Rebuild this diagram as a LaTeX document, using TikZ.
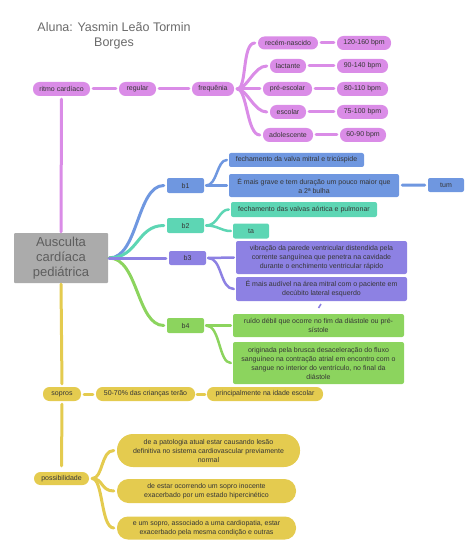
\documentclass[tikz,border=0pt]{standalone}
\usepackage{fontspec}
\setmainfont{Liberation Sans}
\definecolor{pinkc}{HTML}{DA8CE7}
\definecolor{bluec}{HTML}{6F97E0}
\definecolor{tealc}{HTML}{5DD6B4}
\definecolor{purplec}{HTML}{8D81E3}
\definecolor{greenc}{HTML}{8CD45E}
\definecolor{yellowc}{HTML}{E4CB4F}
\definecolor{greyc}{HTML}{ABABAB}
\definecolor{txt}{HTML}{363636}
\definecolor{titlec}{HTML}{6A6A6A}
\tikzset{
  base/.style={font=\fontsize{7}{9}\selectfont, text=txt, inner sep=0pt, align=center},
  pill/.style={base, fill=#1, rounded corners=6.5pt},
  box/.style={base, fill=#1, rounded corners=2pt},
  conn/.style={draw=#1, line width=3pt, line cap=round, shorten <=3pt, shorten >=3pt},
  thin/.style={draw=#1, line width=2.5pt, line cap=round, shorten <=2pt, shorten >=2pt},
}
\begin{document}
\begin{tikzpicture}[x=1pt,y=-1pt]
\useasboundingbox (0,0) rectangle (474,556);

% title
\node[font=\fontsize{12.5}{15}\selectfont, text=titlec, align=center, inner sep=0pt] (title) at (114,36) {Aluna: Yasmin Leão Tormin\\Borges};

% pink row
\node[pill=pinkc, minimum width=57pt, minimum height=14pt] (ritmo) at (61.5,89) {ritmo cardíaco};
\node[pill=pinkc, minimum width=37pt, minimum height=14pt] (regular) at (137.5,89) {regular};
\node[pill=pinkc, minimum width=42pt, minimum height=14pt] (freq) at (213,89) {frequênia};

\node[pill=pinkc, minimum width=60pt, minimum height=13pt] (recem) at (288,43) {recém-nascido};
\node[pill=pinkc, minimum width=36pt, minimum height=14pt] (lact) at (288,66) {lactante};
\node[pill=pinkc, minimum width=49pt, minimum height=14pt] (pre) at (287.5,89) {pré-escolar};
\node[pill=pinkc, minimum width=36pt, minimum height=14pt] (esc) at (288,112) {escolar};
\node[pill=pinkc, minimum width=50pt, minimum height=14pt] (adol) at (288,135) {adolescente};

\node[pill=pinkc, minimum width=54pt, minimum height=14pt] (bpmA) at (364,43) {120-160 bpm};
\node[pill=pinkc, minimum width=51pt, minimum height=14pt] (bpmB) at (362.5,66) {90-140 bpm};
\node[pill=pinkc, minimum width=51pt, minimum height=14pt] (bpmC) at (362.5,89) {80-110 bpm};
\node[pill=pinkc, minimum width=51pt, minimum height=14pt] (bpmD) at (362.5,112) {75-100 bpm};
\node[pill=pinkc, minimum width=46pt, minimum height=14pt] (bpmE) at (363,135) {60-90 bpm};

\draw[conn=pinkc] (ritmo) -- (regular);
\draw[conn=pinkc] (regular) -- (freq);
\foreach \c in {recem,lact,pre,esc,adol}{
  \draw[conn=pinkc] (freq.east) .. controls +(13,0) and +(-16,0) .. (\c.west);
}
\draw[conn=pinkc] (recem) -- (bpmA);
\draw[conn=pinkc] (lact) -- (bpmB);
\draw[conn=pinkc] (pre) -- (bpmC);
\draw[conn=pinkc] (esc) -- (bpmD);
\draw[conn=pinkc] (adol) -- (bpmE);

% central
\node[base, fill=greyc, rounded corners=1pt, minimum width=94pt, minimum height=50pt,
      font=\fontsize{13}{15}\selectfont, text=txt!80!white] (central) at (61,258) {Ausculta\\cardíaca\\pediátrica};
\draw[conn=pinkc, shorten >=1pt] (ritmo.south) -- (central.north);

% b nodes
\node[box=bluec, minimum width=37pt, minimum height=15pt] (b1) at (185.5,185.5) {b1};
\node[box=tealc, minimum width=37pt, minimum height=15pt] (b2) at (185.5,225.5) {b2};
\node[box=purplec, minimum width=37pt, minimum height=14pt] (b3) at (187.5,258) {b3};
\node[box=greenc, minimum width=37pt, minimum height=15pt] (b4) at (185.5,325.5) {b4};

\draw[conn=bluec, shorten <=1pt] (central.east) .. controls +(30,0) and +(-30,0) .. (b1.west);
\draw[conn=tealc, shorten <=1pt] (central.east) .. controls +(30,0) and +(-30,0) .. (b2.west);
\draw[conn=greenc, shorten <=1pt] (central.east) .. controls +(30,0) and +(-30,0) .. (b4.west);
\draw[conn=purplec, shorten <=1pt] (central.east) -- (b3.west);

% blue children
\node[box=bluec, minimum width=135pt, minimum height=14pt] (bl1) at (296.5,160) {fechamento da valva mitral e tricúspide};
\node[box=bluec, minimum width=170pt, minimum height=23pt] (bl2) at (314,185.5) {É mais grave e tem duração um pouco maior que\\a 2ª bulha};
\node[box=bluec, minimum width=36pt, minimum height=14pt] (tum) at (446,185) {tum};
\draw[thin=bluec] (b1.east) .. controls +(13,0) and +(-12,0) .. (bl1.west);
\draw[thin=bluec] (b1.east) -- (bl2.west);
\draw[conn=bluec] (bl2) -- (tum);

% teal children
\node[box=tealc, minimum width=146pt, minimum height=15pt] (te1) at (304,209.5) {fechamento das valvas aórtica e pulmonar};
\node[box=tealc, minimum width=36pt, minimum height=15pt] (ta) at (251,231) {ta};
\draw[thin=tealc] (b2.east) .. controls +(14,0) and +(-12,0) .. (te1.west);
\draw[thin=tealc] (b2.east) .. controls +(14,0) and +(-12,0) .. (ta.west);

% purple children
\node[box=purplec, minimum width=171pt, minimum height=33pt] (pu1) at (321.5,257.5) {vibração da parede ventricular distendida pela\\corrente sanguínea que penetra na cavidade\\durante o enchimento ventricular rápido};
\node[box=purplec, minimum width=171pt, minimum height=24pt] (pu2) at (321.5,289) {É mais audível na área mitral com o paciente em\\decúbito lateral esquerdo};
\draw[thin=purplec] (b3.east) -- (pu1.west);
\draw[thin=purplec] (b3.east) .. controls +(16,0) and +(-16,0) .. (pu2.west);
\coordinate (tA) at (321,304);
\coordinate (tB) at (318.5,308);
\draw[draw=purplec, line width=1.6pt] (tA) -- (tB);

% green children
\node[box=greenc, minimum width=171pt, minimum height=23pt] (gr1) at (318.5,325.5) {ruído débil que ocorre no fim da diástole ou pré-\\sístole};
\node[box=greenc, minimum width=171pt, minimum height=42pt] (gr2) at (318.5,363) {originada pela brusca desaceleração do fluxo\\sanguíneo na contração atrial em encontro com o\\sangue no interior do ventrículo, no final da\\diástole};
\draw[thin=greenc] (b4.east) -- (gr1.west);
\draw[thin=greenc] (b4.east) .. controls +(16,0) and +(-14,0) .. (gr2.west);

% yellow
\node[pill=yellowc, minimum width=38pt, minimum height=14pt] (sopros) at (62,394) {sopros};
\node[pill=yellowc, minimum width=99pt, minimum height=14pt] (fifty) at (145.5,394) {50-70\% das crianças terão};
\node[pill=yellowc, minimum width=116pt, minimum height=14pt] (princ) at (265,394) {principalmente na idade escolar};
\node[pill=yellowc, minimum width=55pt, minimum height=13pt] (possib) at (61.5,478.5) {possibilidade};
\node[base, fill=yellowc, rounded corners=16pt, minimum width=183pt, minimum height=33pt] (y1) at (208.5,450.5) {de a patologia atual estar causando lesão\\definitiva no sistema cardiovascular previamente\\normal};
\node[base, fill=yellowc, rounded corners=11.5pt, minimum width=179pt, minimum height=24pt] (y2) at (206.5,491) {de estar ocorrendo um sopro inocente\\exacerbado por um estado hipercinético};
\node[base, fill=yellowc, rounded corners=11pt, minimum width=179pt, minimum height=23pt] (y3) at (206.5,528) {e um sopro, associado a uma cardiopatia, estar\\exacerbado pela mesma condição e outras};

\draw[conn=yellowc, shorten <=1pt] (central.south) -- (sopros.north);
\draw[conn=yellowc, shorten >=6pt] (sopros.south) -- (possib.north);
\draw[conn=yellowc] (sopros) -- (fifty);
\draw[conn=yellowc, shorten <=2pt, shorten >=2pt] (fifty) -- (princ);
\foreach \c in {y1,y2,y3}{
  \draw[conn=yellowc] (possib.east) .. controls +(14,0) and +(-16,0) .. (\c.west);
}
\end{tikzpicture}
\end{document}
